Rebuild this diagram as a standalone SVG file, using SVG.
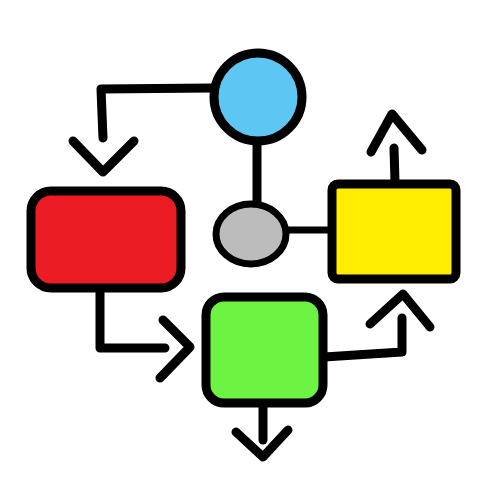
<svg xmlns="http://www.w3.org/2000/svg" width="500" height="500" viewBox="0 0 500 500">
<style>
.n{stroke:#000;stroke-width:9;stroke-linejoin:round}
.c{fill:none;stroke:#000;stroke-width:9;stroke-linecap:round;stroke-linejoin:round}
</style>
<rect width="500" height="500" fill="#fff"/>
<g id="connectors">
<path class="c" d="M212,88 L101,89 L103,138"/>
<path class="c" d="M73,141 L103,172 L134,141"/>
<path class="c" d="M257,140 L257,202"/>
<path class="c" d="M288,230 L330,230" style="stroke-width:7"/>
<path class="c" d="M395,182 L394,148"/>
<path class="c" d="M371,152 L392,114 L422,150"/>
<path class="c" d="M100,290 L100,348 L165,348"/>
<path class="c" d="M163,320 L190,347 L160,378"/>
<path class="c" d="M324,357 L402,352 L402,318"/>
<path class="c" d="M370,324 L403,294 L430,327"/>
<path class="c" d="M263,405 L263,440"/>
<path class="c" d="M236,432 L263,457 L288,430"/>
</g>
<g id="blue"><circle class="n" cx="258" cy="97" r="44" fill="#5ec6f2"/></g>
<g id="gray"><ellipse class="n" cx="251" cy="234" rx="35" ry="30" fill="#bcbcbc" style="stroke-width:7"/></g>
<g id="red"><rect class="n" x="31" y="191" width="150" height="97" rx="20" fill="#ec1c24"/></g>
<g id="yellow"><rect class="n" x="332" y="184" width="124" height="95" rx="6" fill="#ffec00"/></g>
<g id="green"><rect class="n" x="206" y="297" width="117" height="106" rx="18" fill="#6df443"/></g>
</svg>
